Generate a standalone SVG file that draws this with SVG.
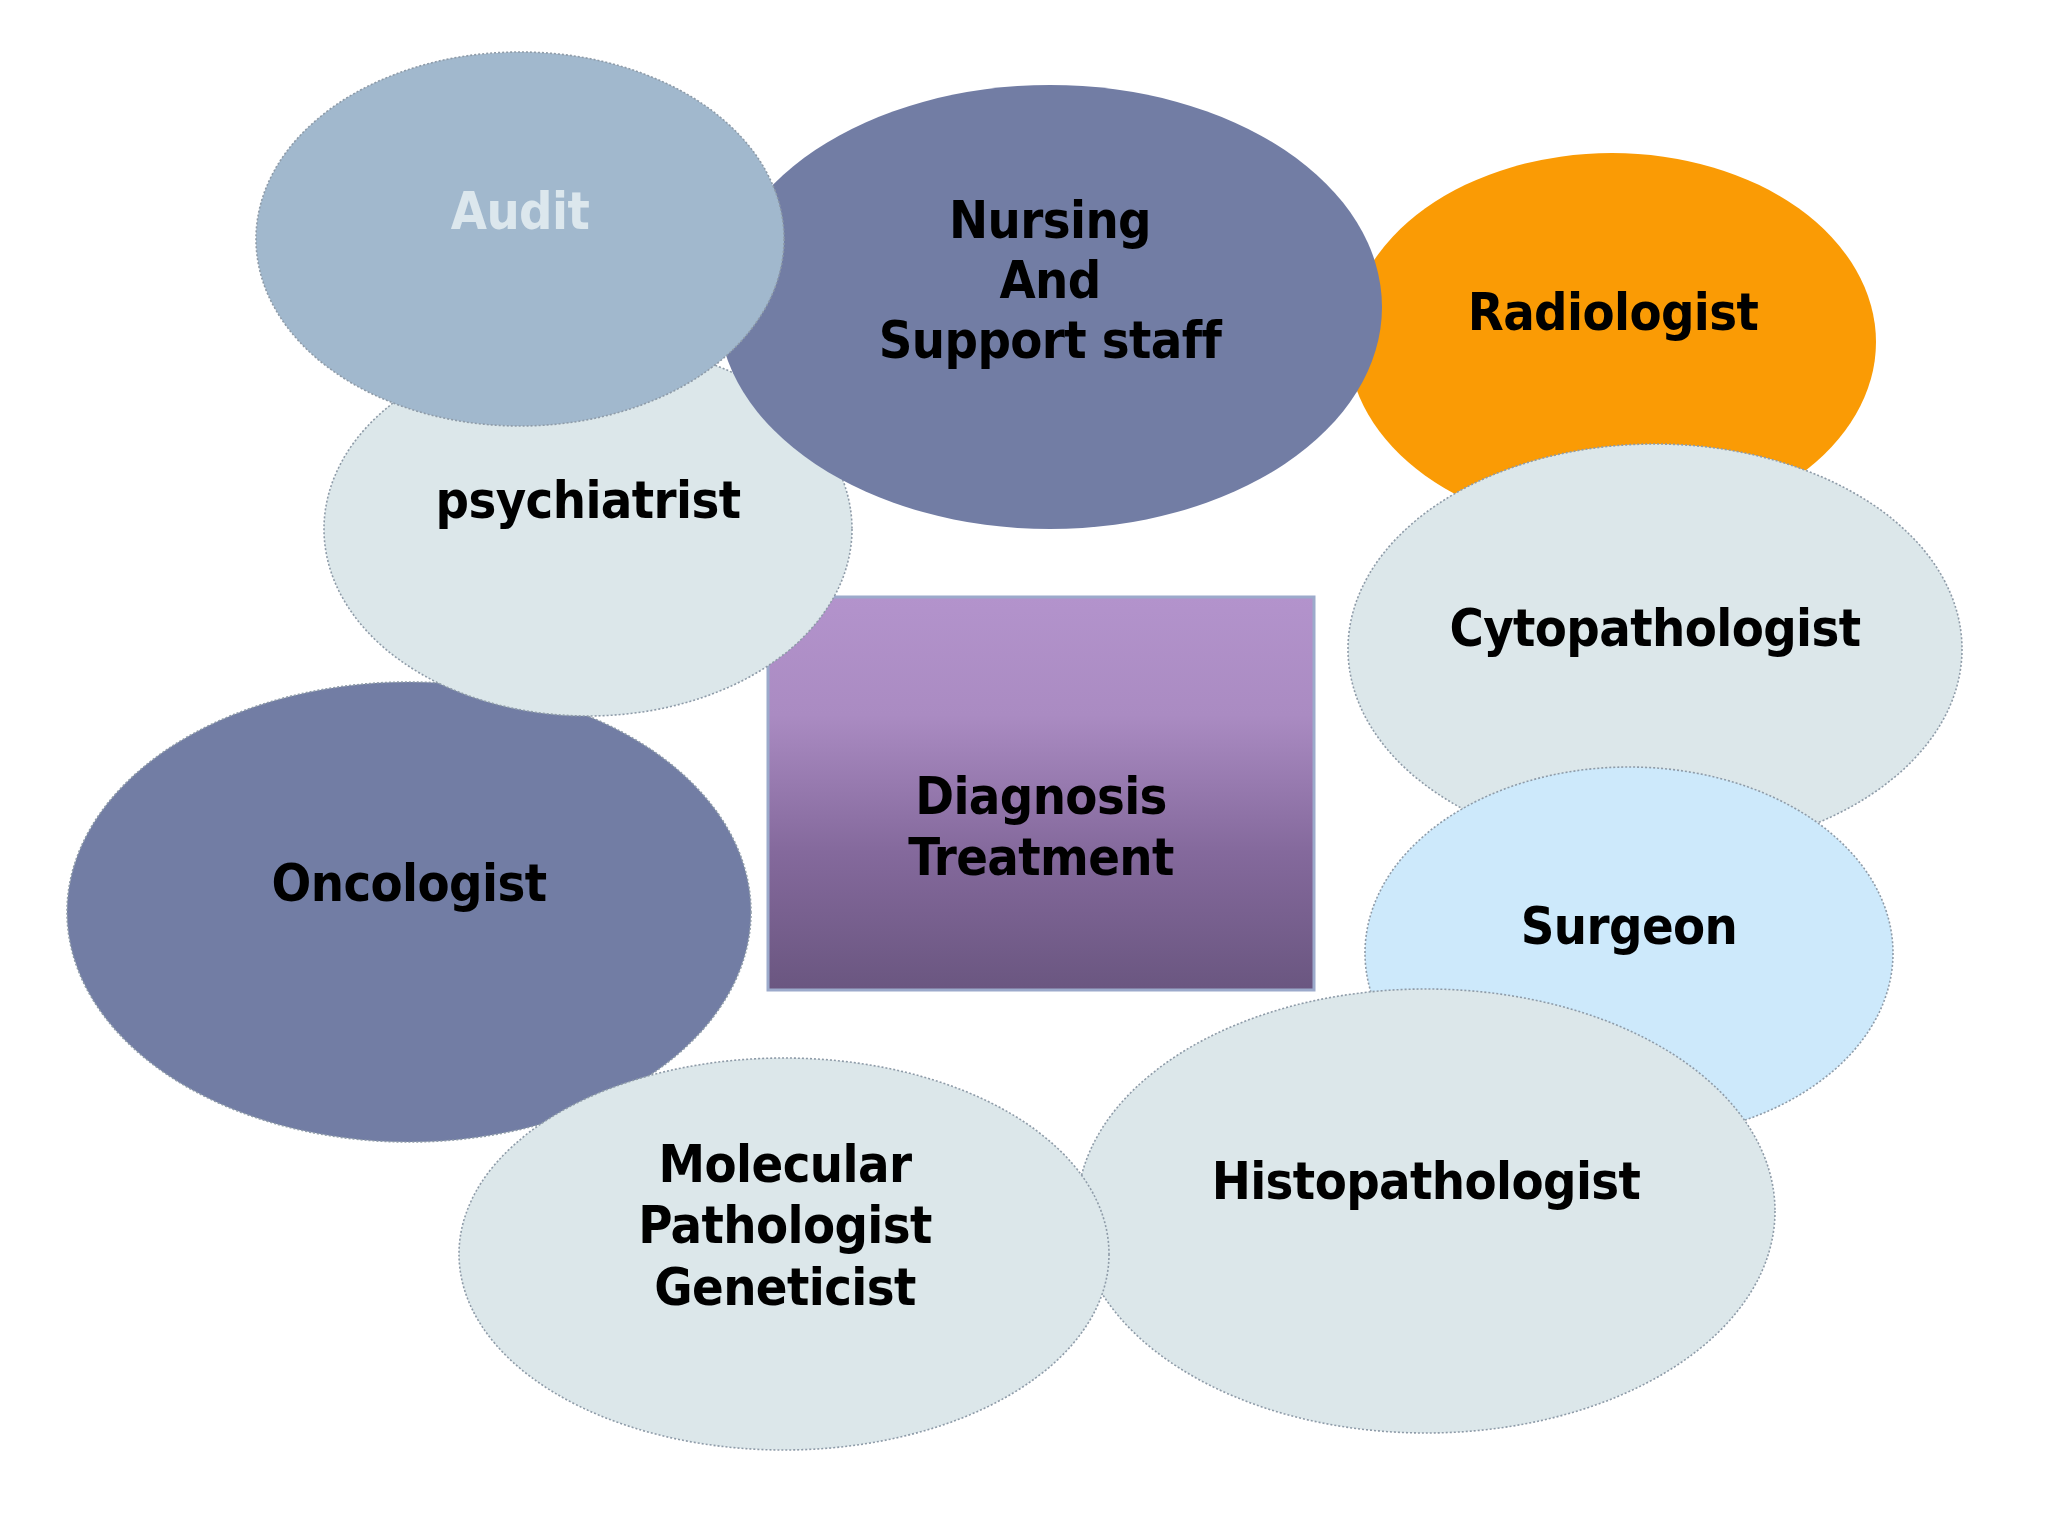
<svg xmlns="http://www.w3.org/2000/svg" width="2048" height="1536" viewBox="0 0 2048 1536">
<defs>
<linearGradient id="purple" x1="0" y1="0" x2="0" y2="1">
<stop offset="0" stop-color="#B393CC"/>
<stop offset="0.3" stop-color="#AA8BC2"/>
<stop offset="0.65" stop-color="#84699C"/>
<stop offset="1" stop-color="#6A5680"/>
</linearGradient>
</defs>
<style>
.lbl{font-family:"DejaVu Sans Condensed","DejaVu Sans",sans-serif;font-weight:bold;font-size:52px;text-anchor:middle;fill:#000;font-stretch:condensed;letter-spacing:-0.6px}
.dot{stroke:#8E9BA8;stroke-width:1.6;stroke-dasharray:2 2}
.light{fill:#DCE7EA}
.slate{fill:#727DA4}
</style>
<rect width="2048" height="1536" fill="#FFFFFF"/>
<g id="connectors"></g>
<g id="center">
<rect x="768" y="597" width="546" height="393" fill="url(#purple)" stroke="#9CAACB" stroke-width="3"/>
<text class="lbl" x="1041" y="814">Diagnosis</text>
<text class="lbl" x="1041" y="875">Treatment</text>
</g>
<g id="oncologist">
<ellipse class="slate dot" cx="409" cy="912" rx="342" ry="230"/>
<text class="lbl" x="409" y="901">Oncologist</text>
</g>
<g id="psychiatrist">
<ellipse class="light dot" cx="588" cy="529" rx="264" ry="187"/>
<text class="lbl" x="588" y="518">psychiatrist</text>
</g>
<g id="radiologist">
<ellipse cx="1612" cy="342" rx="264" ry="189" fill="#FA9B05"/>
<text class="lbl" x="1613" y="330">Radiologist</text>
</g>
<g id="nursing">
<ellipse class="slate" cx="1050" cy="307" rx="332" ry="222"/>
<text class="lbl" x="1050" y="238">Nursing</text>
<text class="lbl" x="1050" y="298">And</text>
<text class="lbl" x="1050" y="358">Support staff</text>
</g>
<g id="audit">
<ellipse class="dot" cx="520" cy="239" rx="264" ry="187" fill="#A1B8CD"/>
<text class="lbl" x="520" y="229" style="fill:#DCE7ED">Audit</text>
</g>
<g id="cytopathologist">
<ellipse class="light dot" cx="1655" cy="649" rx="307" ry="205"/>
<text class="lbl" x="1655" y="646">Cytopathologist</text>
</g>
<g id="surgeon">
<ellipse class="dot" cx="1629" cy="953" rx="264" ry="186" fill="#CDE9FB"/>
<text class="lbl" x="1629" y="944">Surgeon</text>
</g>
<g id="histopathologist">
<ellipse class="light dot" cx="1426" cy="1211" rx="349" ry="222"/>
<text class="lbl" x="1426" y="1199">Histopathologist</text>
</g>
<g id="molecular">
<ellipse class="light dot" cx="784" cy="1254" rx="325" ry="196"/>
<text class="lbl" x="785" y="1182">Molecular</text>
<text class="lbl" x="785" y="1243">Pathologist</text>
<text class="lbl" x="785" y="1305">Geneticist</text>
</g>
</svg>
